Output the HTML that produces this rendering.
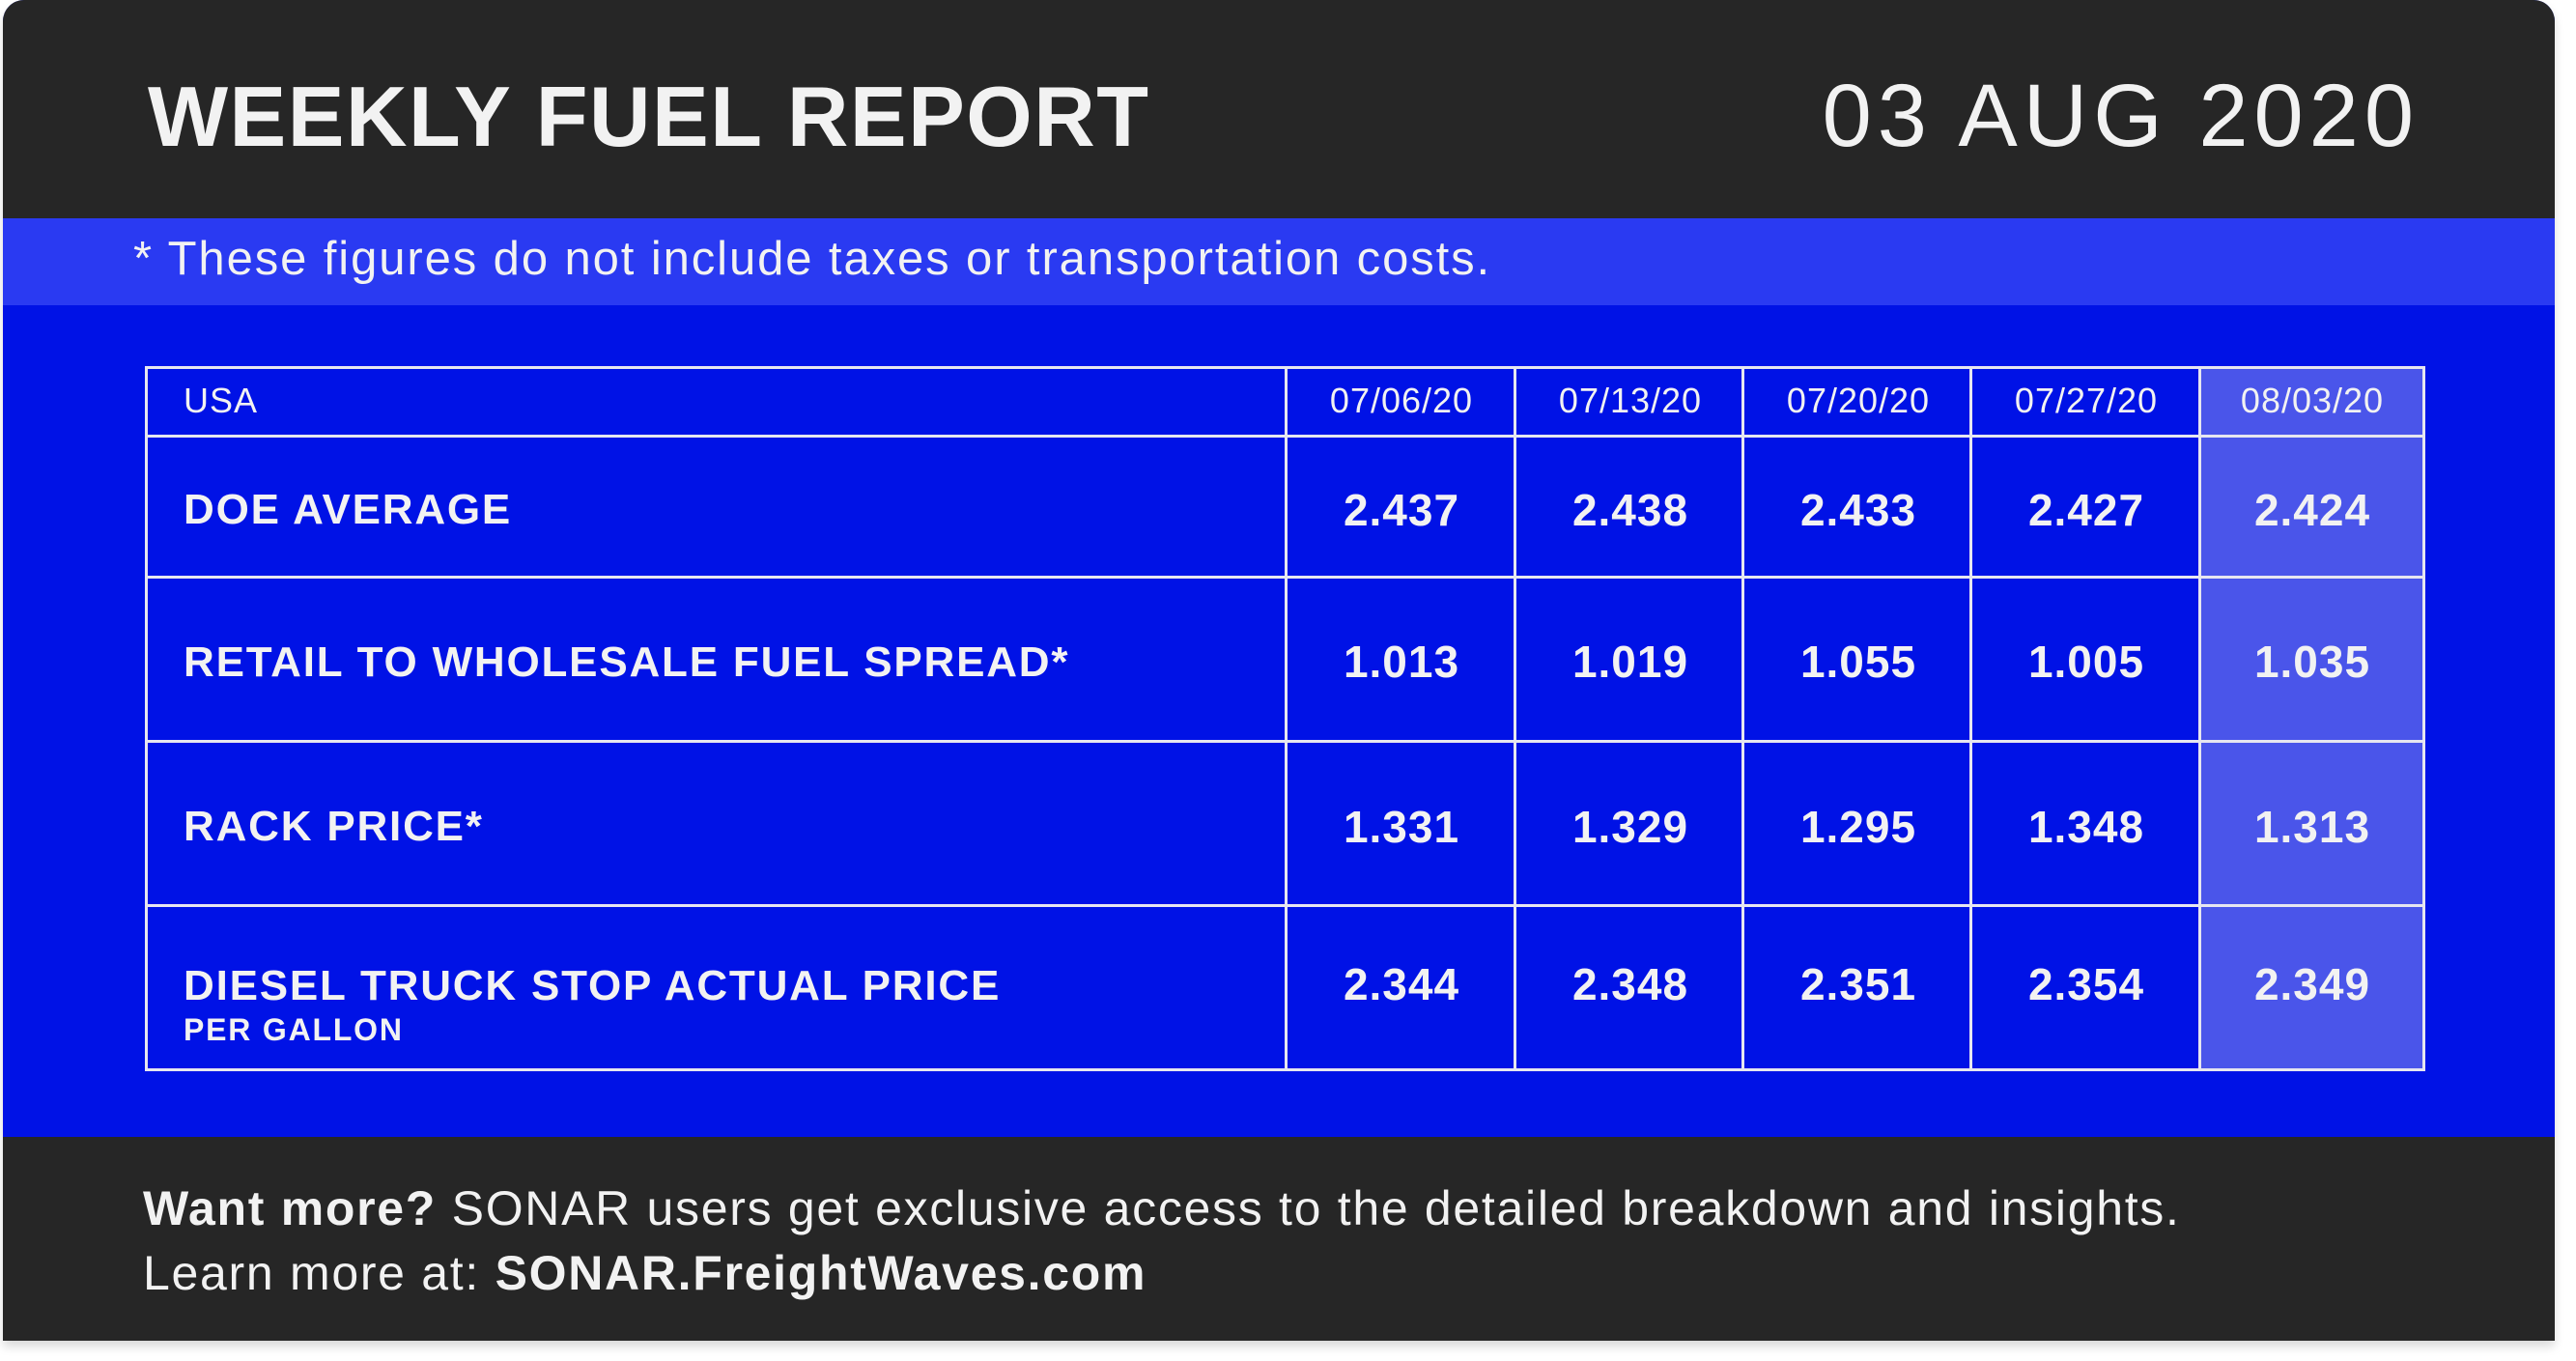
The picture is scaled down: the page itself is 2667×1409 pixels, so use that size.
<!DOCTYPE html>
<html><head><meta charset="utf-8"><style>
*{margin:0;padding:0;box-sizing:border-box}
body{width:2667px;height:1409px;background:#fff;position:relative;overflow:hidden;font-family:"Liberation Sans",sans-serif;color:#f2f2f2}
.card{position:absolute;left:3px;top:0;width:2642px;height:1388px;border-radius:22px 22px 0 0;overflow:hidden;background:#0012e6;box-shadow:0 6px 10px rgba(0,0,0,.15)}
.hd{position:absolute;left:0;top:0;width:100%;height:226px;background:#262626}
.ttl{position:absolute;left:150px;top:70px;font-size:88px;font-weight:bold;letter-spacing:1.5px}
.date{position:absolute;right:140px;top:68px;font-size:92px;letter-spacing:6px}
.strip{position:absolute;left:0;top:226px;width:100%;height:90px;background:#2a3af2}
.note{position:absolute;left:135px;top:240px;font-size:49px;letter-spacing:1.9px}
.ft{position:absolute;left:0;top:1177px;width:100%;height:211px;background:#262626}
.fl{position:absolute;left:145px;font-size:50px;letter-spacing:1.7px}
.hl{position:absolute;left:2273px;top:379px;width:235px;height:730px;background:#4a55ea}
.v{position:absolute;background:#e6e6f0;width:3px;top:379px;height:730px}
.h{position:absolute;background:#e6e6f0;height:3px;left:147px;width:2361px}
.t{position:absolute;font-size:44px;font-weight:bold;letter-spacing:1.8px}
.d{position:absolute;font-size:36px;width:236px;text-align:center;letter-spacing:1px}
.n{position:absolute;font-size:46px;font-weight:bold;width:236px;text-align:center;letter-spacing:1px}
</style></head><body>
<div class="card">
<div class="hd"><div class="ttl">WEEKLY FUEL REPORT</div><div class="date">03 AUG 2020</div></div>
<div class="strip"></div>
<div class="note">* These figures do not include taxes or transportation costs.</div>
<div class="hl"></div>
<div class="h" style="top:379px"></div><div class="h" style="top:450px"></div><div class="h" style="top:596px"></div><div class="h" style="top:766px"></div><div class="h" style="top:936px"></div><div class="h" style="top:1106px"></div>
<div class="v" style="left:147px"></div><div class="v" style="left:1327px"></div><div class="v" style="left:1564px"></div><div class="v" style="left:1800px"></div><div class="v" style="left:2036px"></div><div class="v" style="left:2273px"></div><div class="v" style="left:2505px"></div>
<div class="d" style="left:187px;top:394px;text-align:left">USA</div>
<div class="d" style="left:1330px;top:394px">07/06/20</div><div class="d" style="left:1567px;top:394px">07/13/20</div><div class="d" style="left:1803px;top:394px">07/20/20</div><div class="d" style="left:2039px;top:394px">07/27/20</div><div class="d" style="left:2273px;top:394px">08/03/20</div>
<div class="t" style="left:187px;top:503px">DOE AVERAGE</div>
<div class="t" style="left:187px;top:661px">RETAIL TO WHOLESALE FUEL SPREAD*</div>
<div class="t" style="left:187px;top:831px">RACK PRICE*</div>
<div class="t" style="left:187px;top:996px">DIESEL TRUCK STOP ACTUAL PRICE</div>
<div class="t" style="left:187px;top:1048px;font-size:32px">PER GALLON</div>
<div class="n" style="left:1330px;top:501px">2.437</div><div class="n" style="left:1567px;top:501px">2.438</div><div class="n" style="left:1803px;top:501px">2.433</div><div class="n" style="left:2039px;top:501px">2.427</div><div class="n" style="left:2273px;top:501px">2.424</div>
<div class="n" style="left:1330px;top:658px">1.013</div><div class="n" style="left:1567px;top:658px">1.019</div><div class="n" style="left:1803px;top:658px">1.055</div><div class="n" style="left:2039px;top:658px">1.005</div><div class="n" style="left:2273px;top:658px">1.035</div>
<div class="n" style="left:1330px;top:829px">1.331</div><div class="n" style="left:1567px;top:829px">1.329</div><div class="n" style="left:1803px;top:829px">1.295</div><div class="n" style="left:2039px;top:829px">1.348</div><div class="n" style="left:2273px;top:829px">1.313</div>
<div class="n" style="left:1330px;top:992px">2.344</div><div class="n" style="left:1567px;top:992px">2.348</div><div class="n" style="left:1803px;top:992px">2.351</div><div class="n" style="left:2039px;top:992px">2.354</div><div class="n" style="left:2273px;top:992px">2.349</div>
<div class="ft"></div>
<div class="fl" style="top:1222px"><b>Want more?</b> SONAR users get exclusive access to the detailed breakdown and insights.</div>
<div class="fl" style="top:1289px">Learn more at: <b>SONAR.FreightWaves.com</b></div>
</div>
</body></html>
